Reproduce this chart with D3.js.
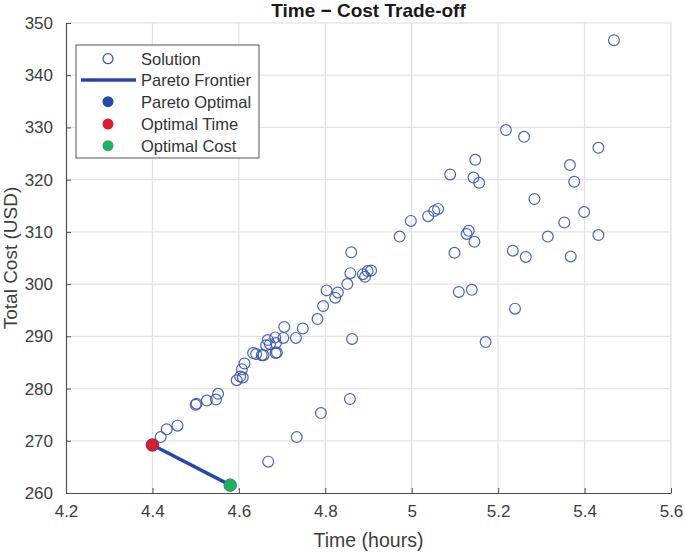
<!DOCTYPE html>
<head>
  <meta charset="utf-8">
  <title>Time - Cost Trade-off</title>
  <style>
    body {
      margin: 0;
      padding: 0;
      background-color: #fff;
      font-family: 'Liberation Sans', Arial, sans-serif;
    }
    .grid line { stroke: #e3e3e3; stroke-width: 1.3; }
    .tick-label { fill: #3d3d3d; font-size: 17px; }
  </style>
</head>
<body>
  <div id="vis"></div>
  <script src="https://cdn.jsdelivr.net/npm/d3@7"></script>
  <script>
    // all solutions (time in hours, cost in USD)
    var solTime = [4.40, 4.419, 4.433, 4.458, 4.500, 4.502, 4.526, 4.547, 4.552,
      4.595, 4.603, 4.609, 4.607, 4.613, 4.633, 4.640, 4.653, 4.657, 4.663, 4.672,
      4.667, 4.684, 4.686, 4.685, 4.688, 4.703, 4.705, 4.732, 4.748, 4.782, 4.795,
      4.803, 4.829, 4.823, 4.851, 4.858, 4.887, 4.892, 4.898, 4.906, 4.860, 4.862,
      4.790, 4.857, 4.734, 4.668, 4.58,
      4.972, 4.998, 5.038, 5.052, 5.061, 5.089, 5.147, 5.143, 5.156, 5.132, 5.127,
      5.145, 5.099, 5.234, 5.264, 5.109, 5.139, 5.239, 5.171, 5.218, 5.260, 5.284,
      5.315, 5.353, 5.366, 5.376, 5.399, 5.432, 5.432, 5.368, 5.468];
    var solCost = [269.2, 270.7, 272.2, 272.9, 276.9, 277.1, 277.7, 277.9, 279.0,
      281.6, 282.3, 282.1, 283.7, 284.8, 286.8, 286.6, 286.4, 286.4, 288.3, 288.5,
      289.3, 289.8, 288.7, 286.8, 286.9, 289.7, 291.8, 289.7, 291.5, 293.3, 295.8,
      298.8, 298.4, 297.4, 300.0, 302.1, 301.9, 301.4, 302.5, 302.6, 306.1, 289.5,
      275.3, 278.0, 270.7, 266.0, 261.5,
      309.1, 312.1, 313.0, 314.0, 314.4, 321.0, 323.8, 320.4, 319.4, 310.2, 309.6,
      308.1, 306.0, 306.4, 305.2, 298.5, 298.9, 295.3, 288.9, 329.5, 328.2, 316.3,
      309.1, 311.8, 322.8, 319.6, 313.8, 326.1, 309.4, 305.3, 346.7];

    // pareto optimal set
    var paretoTime = [4.40, 4.58];
    var paretoCost = [269.2, 261.5];

    var optTime = { t: 4.40, c: 269.2 };
    var optCost = { t: 4.58, c: 261.5 };

    var xTicks = [4.2, 4.4, 4.6, 4.8, 5, 5.2, 5.4, 5.6];
    var yTicks = [260, 270, 280, 290, 300, 310, 320, 330, 340, 350];

    var legendLabels = ['Solution', 'Pareto Frontier', 'Pareto Optimal', 'Optimal Time', 'Optimal Cost'];

    var blue = '#3553b0', lineBlue = '#2449a6', red = '#d81e2b', green = '#1fb060';

    var visWidth = 685, visHeight = 552,
        pLeft = 66, pRight = 671, pTop = 23, pBottom = 493;

    var svg = d3.select('#vis').append('svg')
      .attr('width', visWidth)
      .attr('height', visHeight);

    var x = d3.scaleLinear().domain([4.2, 5.6]).range([pLeft, pRight]);
    var y = d3.scaleLinear().domain([260, 350]).range([pBottom, pTop]);

    // grid
    var grid = svg.append('g').attr('class', 'grid');
    grid.selectAll('.gx').data(xTicks.slice(1, -1)).enter().append('line')
      .attr('x1', function(d) { return x(d); }).attr('x2', function(d) { return x(d); })
      .attr('y1', pTop).attr('y2', pBottom);
    grid.selectAll('.gy').data(yTicks.slice(1, -1)).enter().append('line')
      .attr('y1', function(d) { return y(d); }).attr('y2', function(d) { return y(d); })
      .attr('x1', pLeft).attr('x2', pRight);

    // box: top & right light
    svg.append('path')
      .attr('d', 'M' + pLeft + ',' + pTop + 'H' + pRight + 'V' + pBottom)
      .attr('fill', 'none').attr('stroke', '#dcdcdc').attr('stroke-width', 1.2);

    // axes, ticks point inward
    var xAxis = d3.axisBottom(x).tickValues(xTicks).tickSizeInner(-5).tickSizeOuter(0)
      .tickFormat(function(d) { return d3.format('')(d); }).tickPadding(12);
    var yAxis = d3.axisLeft(y).tickValues(yTicks).tickSizeInner(-5).tickSizeOuter(0).tickPadding(13);

    var gx = svg.append('g').attr('transform', 'translate(0,' + pBottom + ')').call(xAxis);
    var gy = svg.append('g').attr('transform', 'translate(' + pLeft + ',0)').call(yAxis);
    [gx, gy].forEach(function(g) {
      g.select('.domain').attr('stroke', '#4d4d4d').attr('stroke-width', 1.2);
      g.selectAll('.tick line').attr('stroke', '#4d4d4d');
      g.selectAll('.tick text').attr('class', 'tick-label')
        .style('font-family', "'Liberation Sans', Arial, sans-serif");
    });

    // solutions
    svg.append('g').selectAll('circle')
      .data(d3.range(solTime.length))
      .enter().append('circle')
        .attr('cx', function(i) { return x(solTime[i]); })
        .attr('cy', function(i) { return y(solCost[i]); })
        .attr('r', 5.4)
        .attr('fill', 'none')
        .attr('stroke', blue)
        .attr('stroke-width', 1.2)
        .attr('stroke-opacity', 0.9);

    // pareto frontier
    var line = d3.line()
      .x(function(i) { return x(paretoTime[i]); })
      .y(function(i) { return y(paretoCost[i]); });
    svg.append('path')
      .datum(d3.range(paretoTime.length))
      .attr('d', line)
      .attr('fill', 'none')
      .attr('stroke', lineBlue)
      .attr('stroke-width', 3.5);

    svg.append('g').selectAll('circle')
      .data(d3.range(paretoTime.length))
      .enter().append('circle')
        .attr('cx', function(i) { return x(paretoTime[i]); })
        .attr('cy', function(i) { return y(paretoCost[i]); })
        .attr('r', 6.3)
        .attr('fill', lineBlue);

    svg.append('circle')
      .attr('cx', x(optTime.t)).attr('cy', y(optTime.c)).attr('r', 6.3)
      .attr('fill', red).attr('stroke', '#5a3a8a').attr('stroke-width', 0.8);
    svg.append('circle')
      .attr('cx', x(optCost.t)).attr('cy', y(optCost.c)).attr('r', 6.3)
      .attr('fill', green).attr('stroke', '#3a8a8a').attr('stroke-width', 0.8);

    // title & labels
    svg.append('text')
      .attr('x', (pLeft + pRight) / 2).attr('y', 17)
      .attr('text-anchor', 'middle')
      .style('font-size', '19px').style('font-weight', 'bold').attr('fill', '#1a1a1a')
      .text('Time \u2212 Cost Trade-off');

    svg.append('text')
      .attr('x', (pLeft + pRight) / 2).attr('y', 547)
      .attr('text-anchor', 'middle')
      .style('font-size', '19.5px').attr('fill', '#3d3d3d')
      .text('Time (hours)');

    svg.append('text')
      .attr('transform', 'translate(17,' + ((pTop + pBottom) / 2) + ') rotate(-90)')
      .attr('text-anchor', 'middle')
      .style('font-size', '19px').attr('fill', '#3d3d3d')
      .text('Total Cost (USD)');

    // legend
    var lg = svg.append('g');
    lg.append('rect')
      .attr('x', 76).attr('y', 45).attr('width', 183).attr('height', 113)
      .attr('fill', '#fff').attr('stroke', '#555').attr('stroke-width', 1);

    var rowY = [58.7, 80, 101.7, 124, 145.7];
    legendLabels.forEach(function(lab, i) {
      var yy = rowY[i];
      if (i === 0) {
        lg.append('circle').attr('cx', 108).attr('cy', yy).attr('r', 5)
          .attr('fill', 'none').attr('stroke', blue).attr('stroke-width', 1.2);
      } else if (i === 1) {
        lg.append('line').attr('x1', 81).attr('x2', 136).attr('y1', yy).attr('y2', yy)
          .attr('stroke', lineBlue).attr('stroke-width', 3.5);
      } else {
        var col = [lineBlue, red, green][i - 2];
        lg.append('circle').attr('cx', 108).attr('cy', yy).attr('r', 5.5).attr('fill', col);
      }
      lg.append('text').attr('x', 141).attr('y', yy + 6)
        .style('font-size', '16.5px').attr('fill', '#333')
        .text(lab);
    });
  </script>
</body>
